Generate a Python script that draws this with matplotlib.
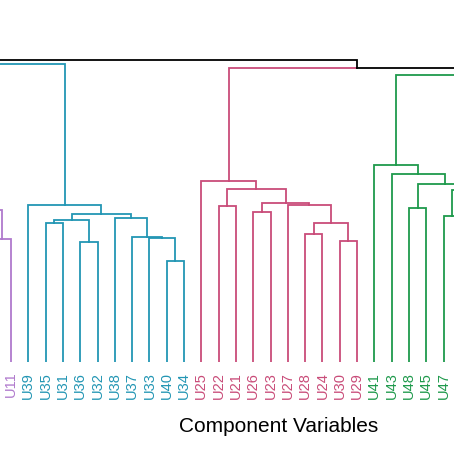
import matplotlib.pyplot as plt

plt.rcParams['font.family'] = ['Liberation Sans', 'DejaVu Sans']

# leaf order, left to right (groups lying outside the crop are collapsed)
leaf_order = ["far", "orange", "purple_rest", "U14", "U11",
              "U39", "U35", "U31", "U36", "U32", "U38", "U37", "U33", "U40", "U34",
              "U25", "U22", "U21", "U26", "U23", "U27", "U28", "U24", "U30", "U29",
              "U41", "U43", "U48", "U45", "U47", "U49", "U42", "U44", "U46",
              "rest"]

# collapsed groups: number of variables and merge height
block_sizes = {"far": 60, "orange": 10, "purple_rest": 8, "rest": 6}
block_heights = {"far": 9.20, "orange": 6.20, "purple_rest": 4.60, "rest": 6.80}

# cluster membership
purple = ["purple_rest", "U14", "U11"]
teal = ["U39", "U35", "U31", "U36", "U32", "U38", "U37", "U33", "U40", "U34"]
pink = ["U25", "U22", "U21", "U26", "U23", "U27", "U28", "U24", "U30", "U29"]
green = ["U41", "U43", "U48", "U45", "U47", "U49", "U42", "U44", "U46"]
orange = ["orange"]
grey = ["far"]
olive = ["rest"]

cluster_colors = {"purple": "#B07ACD", "teal": "#2396B4", "pink": "#C94C79",
                  "green": "#1F9A4C", "orange": "#E08A2C", "grey": "#888888",
                  "olive": "#8A9A2A"}

# merges: (node, left, right, height)
purple_links = [("pA", "U14", "U11", 4.10),
                ("pB", "purple_rest", "pA", 5.07)]

teal_links = [("t11", "U40", "U34", 3.38),
              ("t10", "U33", "t11", 4.12),
              ("t9", "U37", "t10", 4.18),
              ("t3", "U38", "t9", 4.80),
              ("t6", "U36", "U32", 4.00),
              ("t4", "U35", "U31", 4.65),
              ("t2", "t4", "t6", 4.73),
              ("t1", "t2", "t3", 4.93),
              ("t0", "U39", "t1", 5.23)]

pink_links = [("q8", "U30", "U29", 4.03),
              ("q7", "U28", "U24", 4.27),
              ("q6", "q7", "q8", 4.62),
              ("q5", "U27", "q6", 5.22),
              ("q4", "U26", "U23", 4.99),
              ("q3", "q4", "q5", 5.29),
              ("q2", "U22", "U21", 5.20),
              ("q1", "q2", "q3", 5.77),
              ("q0", "U25", "q1", 6.03)]

green_links = [("g8", "U44", "U46", 3.90),
               ("g7", "U42", "g8", 4.50),
               ("g5", "U47", "U49", 4.88),
               ("g6", "g5", "g7", 5.73),
               ("g3", "U48", "U45", 5.15),
               ("g2", "g3", "g6", 5.95),
               ("g1", "U43", "g2", 6.26),
               ("g0", "U41", "g1", 6.57)]

top_links = [("lsub", "orange", "pB", 8.50),
             ("n1", "lsub", "t0", 9.94),
             ("n2", "far", "n1", 10.00),
             ("r1", "g0", "rest", 9.57),
             ("k", "q0", "r1", 9.80),
             ("root", "n2", "k", 10.08)]

# leaf positions and colours
xpos, height, color = {}, {}, {}
slot = 0
for name in leaf_order:
    size = block_sizes.get(name, 1)
    xpos[name] = slot + (size - 1) / 2
    height[name] = block_heights.get(name, 0.0)
    slot += size

for cname, members in [("purple", purple), ("teal", teal), ("pink", pink),
                       ("green", green), ("orange", orange), ("grey", grey),
                       ("olive", olive)]:
    for m in members:
        color[m] = cluster_colors[cname]

fig = plt.figure(figsize=(4.54, 4.54), dpi=100)
ax = fig.add_axes([0, 92 / 454, 1, 362 / 454])

for links in [purple_links, teal_links, pink_links, green_links, top_links]:
    for node, left, right, h in links:
        xpos[node] = (xpos[left] + xpos[right]) / 2
        height[node] = h
        color[node] = color[left] if color[left] == color[right] else "black"
        for child in (left, right):
            ax.plot([xpos[node], xpos[child], xpos[child]], [h, h, height[child]],
                    color=color[child], lw=1.3, solid_joinstyle='miter')

single = [n for n in leaf_order if n not in block_sizes]
ax.set_xticks([xpos[n] for n in single])
ax.set_xticklabels(single, rotation=90, fontsize=10.5)
for lab, n in zip(ax.get_xticklabels(), single):
    lab.set_color(color[n])
ax.tick_params(axis='x', length=0, pad=7)
ax.set_yticks([])
for s in ax.spines.values():
    s.set_visible(False)

# view: crop of the full dendrogram around U11 ... U47
x0 = xpos["U11"]
ax.set_xlim(x0 - 11 / 17.3, x0 + 443 / 17.3)
ax.set_ylim(0, 362 / 30)

fig.text(278.5 / 454, 1 - 427 / 454, "Component Variables", fontsize=15,
         ha='center', va='center')

fig.savefig("out.png", dpi=100)
